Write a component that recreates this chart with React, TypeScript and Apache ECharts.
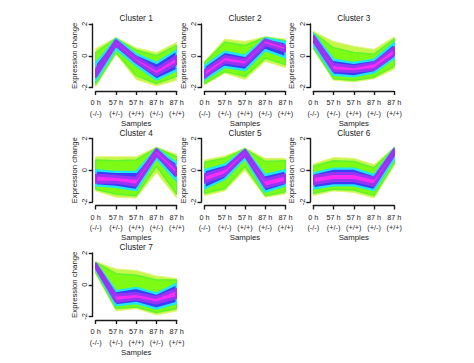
import { useEffect, useRef } from 'react';
import * as echarts from 'echarts';

const samples = ['0 h\n(-/-)', '57 h\n(+/-)', '57 h\n(+/+)', '87 h\n(+/-)', '87 h\n(+/+)'];
const clusterNames = ['Cluster 1', 'Cluster 2', 'Cluster 3', 'Cluster 4', 'Cluster 5', 'Cluster 6', 'Cluster 7'];
const yTicks = [-2, 0, 2];

// envelopes of the line bundles (outermost yellow-green, green, blue, magenta core)
const outerHi = [
  [0.45, 1.15, 0.5, 0.2, 0.85],
  [-0.35, 1.05, 0.9, 1.2, 1.05],
  [1.55, 0.9, 0.6, 0.4, 1.2],
  [0.85, 0.85, 0.85, 1.45, 1.0],
  [0.65, 0.9, 1.4, 0.75, 0.75],
  [0.4, 0.8, 0.75, 0.35, 1.45],
  [1.45, 1.0, 0.9, 0.55, 0.4],
];
const outerLo = [
  [-1.95, 0.1, -1.5, -1.9, -1.55],
  [-1.85, -1.1, -1.5, -0.35, -0.75],
  [0.4, -1.55, -1.65, -1.45, -0.85],
  [-1.3, -1.7, -1.75, -0.15, -1.75],
  [-1.6, -1.3, 0.0, -1.7, -1.5],
  [-1.6, -1.3, -1.4, -1.75, 0.3],
  [0.7, -1.65, -1.5, -1.9, -1.65],
];
const greenHi = [
  [0.2, 1.1, 0.35, 0.0, 0.65],
  [-0.45, 0.85, 0.65, 1.15, 0.95],
  [1.45, 0.5, 0.2, 0.1, 1.05],
  [0.65, 0.6, 0.65, 1.4, 0.85],
  [0.5, 0.75, 1.35, 0.55, 0.6],
  [0.25, 0.6, 0.55, 0.15, 1.4],
  [1.4, 0.7, 0.6, 0.3, 0.3],
];
const greenLo = [
  [-1.8, 0.2, -1.25, -1.75, -1.3],
  [-1.75, -1.0, -1.3, -0.15, -0.55],
  [0.5, -1.45, -1.55, -1.35, -0.65],
  [-1.2, -1.5, -1.6, 0.25, -1.5],
  [-1.45, -1.15, 0.25, -1.6, -1.35],
  [-1.45, -1.2, -1.25, -1.6, 0.45],
  [0.8, -1.5, -1.4, -1.75, -1.5],
];
const blueHi = [
  [-0.5, 1.05, 0.1, -0.45, 0.35],
  [-0.65, 0.25, 0.0, 1.1, 0.85],
  [1.4, -0.25, -0.45, -0.25, 0.8],
  [0.0, -0.1, -0.1, 1.35, 0.45],
  [0.0, 0.35, 1.3, -0.3, 0.0],
  [-0.2, 0.1, 0.1, -0.3, 1.35],
  [1.35, -0.4, -0.2, -0.55, 0.05],
];
const blueLo = [
  [-1.55, 0.45, -0.6, -1.5, -0.9],
  [-1.5, -0.7, -0.9, 0.35, -0.1],
  [0.7, -1.2, -1.3, -1.05, -0.15],
  [-0.95, -1.05, -1.25, 0.75, -0.65],
  [-1.15, -0.55, 0.75, -1.35, -0.95],
  [-1.15, -0.95, -0.95, -1.25, 0.75],
  [1.0, -1.3, -1.15, -1.5, -1.15],
];
const coreHi = [
  [-0.9, 0.95, -0.1, -0.85, -0.05],
  [-0.95, -0.05, -0.25, 1.0, 0.6],
  [1.25, -0.55, -0.7, -0.45, 0.5],
  [-0.3, -0.4, -0.5, 1.3, 0.1],
  [-0.3, 0.1, 1.25, -0.6, -0.3],
  [-0.4, -0.2, -0.2, -0.5, 1.3],
  [1.3, -0.65, -0.55, -0.8, -0.3],
];
const coreLo = [
  [-1.3, 0.7, -0.4, -1.2, -0.5],
  [-1.35, -0.4, -0.6, 0.7, 0.3],
  [0.95, -0.95, -1.0, -0.85, 0.05],
  [-0.75, -0.75, -0.95, 0.95, -0.3],
  [-0.75, -0.3, 0.95, -1.05, -0.75],
  [-0.85, -0.65, -0.65, -0.95, 1.0],
  [1.1, -1.05, -0.9, -1.15, -0.8],
];

const FONT = 'Liberation Sans';
const INK = '#1a1a1a';

export default function App() {
  const ref = useRef<HTMLDivElement>(null);

  useEffect(() => {
    if (!ref.current) return;
    const chart = echarts.init(ref.current, null, { renderer: 'svg' });

    const grids: any[] = [];
    const xAxes: any[] = [];
    const yAxes: any[] = [];
    const titles: any[] = [];
    const series: any[] = [];

    clusterNames.forEach((name, i) => {
      const col = i % 3;
      const row = Math.floor(i / 3);
      const left = 95.7 + 108.8 * col;
      const top = 24 + 114.5 * row;
      const width = 81;
      const height = 63.5;
      grids.push({ left, top, width, height, containLabel: false });

      xAxes.push({
        gridIndex: i,
        type: 'category',
        data: samples,
        boundaryGap: false,
        position: 'bottom',
        offset: 3.5,
        name: 'Samples',
        nameLocation: 'middle',
        nameGap: 25,
        nameTextStyle: { fontFamily: FONT, fontSize: 7.8, color: INK },
        axisLine: { show: true, onZero: false, lineStyle: { color: INK, width: 1.4 } },
        axisTick: { show: true, length: 4, alignWithLabel: true, lineStyle: { color: INK, width: 1.4 } },
        axisLabel: { interval: 0, margin: 6.3, fontFamily: FONT, fontSize: 7.3, lineHeight: 10.5, color: INK },
        splitLine: { show: false },
      });

      yAxes.push({
        gridIndex: i,
        type: 'value',
        min: yTicks[0],
        max: yTicks[yTicks.length - 1],
        interval: yTicks[1] - yTicks[0],
        position: 'left',
        offset: 3,
        name: 'Expression change',
        nameLocation: 'middle',
        nameGap: 14.5,
        nameRotate: 90,
        nameTextStyle: { fontFamily: FONT, fontSize: 7.8, color: INK },
        axisLine: { show: true, onZero: false, lineStyle: { color: INK, width: 1.4 } },
        axisTick: { show: true, length: 4, lineStyle: { color: INK, width: 1.4 } },
        axisLabel: { rotate: 90, margin: 4, fontFamily: FONT, fontSize: 7.5, color: INK },
        splitLine: { show: false },
      });

      titles.push({
        text: name,
        left: left + width / 2,
        top: top - 9.8,
        textAlign: 'center',
        padding: 0,
        textStyle: { fontFamily: FONT, fontSize: 8.3, fontWeight: 'normal', color: INK },
      });

      const layers = [
        { hi: outerHi[i], lo: outerLo[i], fill: '#c4f74a', stroke: '#e2f47a', lw: 1 },
        { hi: greenHi[i], lo: greenLo[i], fill: '#7dfb14', stroke: '#5ef530', lw: 1.5 },
        { hi: blueHi[i], lo: blueLo[i], fill: '#3a3ef6', stroke: '#1fe6f2', lw: 2.4 },
        { hi: coreHi[i], lo: coreLo[i], fill: '#fb2cf3', stroke: '#9636f4', lw: 3 },
      ];

      series.push({
        type: 'custom',
        xAxisIndex: i,
        yAxisIndex: i,
        silent: true,
        clip: true,
        data: [[0, 0]],
        renderItem: (_params: any, api: any) => {
          const children = layers.map((L) => {
            const pts: number[][] = [];
            L.hi.forEach((v, k) => pts.push(api.coord([k, v])));
            for (let k = L.lo.length - 1; k >= 0; k--) pts.push(api.coord([k, L.lo[k]]));
            return {
              type: 'polygon',
              shape: { points: pts },
              style: { fill: L.fill, stroke: L.stroke, lineWidth: L.lw, lineJoin: 'round' },
            };
          });
          return { type: 'group', children };
        },
      });
    });

    chart.setOption({
      animation: false,
      backgroundColor: '#ffffff',
      textStyle: { fontFamily: FONT },
      title: titles,
      grid: grids,
      xAxis: xAxes,
      yAxis: yAxes,
      series,
    });

    return () => chart.dispose();
  }, []);

  return (
    <div
      ref={ref}
      style={{ position: 'absolute', left: 0, top: 0, width: 474, height: 363, background: '#fff' }}
    />
  );
}
